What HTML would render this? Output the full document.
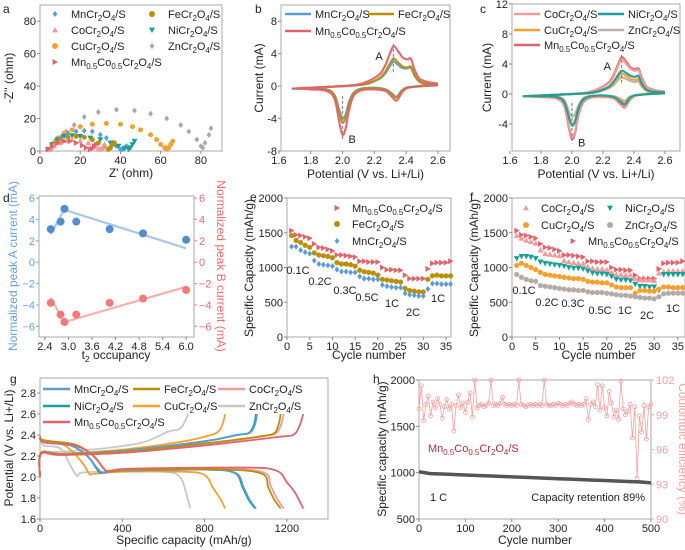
<!DOCTYPE html>
<html><head><meta charset="utf-8">
<style>
html,body{margin:0;padding:0;background:#fff;}
svg{display:block;font-family:"Liberation Sans",Arial,sans-serif;}
</style></head>
<body>
<svg id="fig" width="685" height="550" viewBox="0 0 685 550" xmlns="http://www.w3.org/2000/svg"></svg>
<script>
// ---------------- DATA ----------------
const nyqZnX=[6,8,10,13,17,22,29,38,47,55,63,70,74,78,80,81,82,84,85];
const nyqZnY=[2,5,8,12,16,21,24,25.5,25,23,20,16,12,7,3,2,5,10,14];
const nyqCuX=[5,7,9,12,16,20,26,33,40,46,50,55,58,60,62,63,64,65,66];
const nyqCuY=[1,5,8,11,13,15,16.5,17,16.5,15,13,10,7,4,2,1,2,4,6];
const nyqMnX=[4,6,8,11,14,18,22,26,30,33,36,38,40,41,42,43];
const nyqMnY=[1,4,7,9,11,12,12.5,12,10,8,5,3,1,1,2,3];
const nyqNiX=[4,6,9,12,16,20,25,30,35,39,42,44,45,46,47];
const nyqNiY=[1,4,7,9,9.5,9,8,7,5,3,1.5,1,2,4,6];
const nyqFeX=[5,7,10,14,18,22,26,29,32,34,35,36,37];
const nyqFeY=[1,4,7,8.5,9,8.5,7,5,3,1,2,4,5];
const nyqCoX=[5,7,10,13,16,20,24,27,29,30,31,32];
const nyqCoY=[1,3,5,6.5,7,6.5,5,3,1.5,1,2,4];
const nyqMCX=[4,6,9,12,15,18,21,23,25,26,27,28];
const nyqMCY=[1,3,5,6,6,5,3.5,2,1,1.5,3,4];
const cvVc=[2.6,2.5,2.44,2.4,2.37,2.34,2.31,2.27,2.2,2.12,2.07,2.04,2.02,2.0,1.98,1.95,1.9,1.8,1.7];
const cvVa=[1.7,1.8,1.9,2.0,2.1,2.16,2.2,2.24,2.27,2.29,2.32,2.35,2.38,2.41,2.43,2.45,2.48,2.52,2.6];
const cvMCc=[0.2,0.05,-0.1,-0.3,-0.9,-1.8,-1.3,-0.6,-0.4,-0.5,-1.2,-3.0,-5.2,-6.0,-4.5,-1.6,-0.6,-0.4,-0.3];
const cvMCa=[-0.3,-0.2,-0.1,0,0.2,0.6,1.0,1.6,2.6,3.6,4.9,4.3,3.5,3.3,3.4,2.2,1.0,0.6,0.3];
const cvMnc=[0.1,0,-0.1,-0.2,-0.6,-1.3,-0.9,-0.4,-0.2,-0.3,-0.8,-2.0,-3.5,-4.0,-3.0,-1.1,-0.4,-0.3,-0.3];
const cvMna=[-0.3,-0.2,-0.1,0,0.1,0.3,0.6,1.0,1.6,2.2,3.0,2.6,2.2,2.2,2.3,1.4,0.6,0.3,0.2];
const cvFec=[0.1,0,-0.1,-0.2,-0.7,-1.4,-1.0,-0.45,-0.25,-0.35,-0.9,-2.3,-3.9,-4.5,-3.4,-1.2,-0.45,-0.3,-0.3];
const cvFea=[-0.3,-0.2,-0.1,0,0.15,0.35,0.65,1.1,1.8,2.5,3.4,2.9,2.4,2.3,2.4,1.5,0.65,0.35,0.2];
const cvCoc=[0.2,0.05,-0.1,-0.3,-0.9,-1.7,-1.2,-0.6,-0.4,-0.5,-1.1,-2.8,-5.0,-5.7,-4.3,-1.5,-0.6,-0.4,-0.3];
const cvCoa=[-0.3,-0.2,-0.1,0,0.2,0.55,0.95,1.5,2.4,3.4,4.6,4.0,3.3,3.1,3.2,2.0,0.9,0.55,0.3];
const cvNic=[0.1,0,-0.1,-0.2,-0.6,-1.4,-1.0,-0.4,-0.2,-0.3,-0.8,-2.1,-3.7,-4.2,-3.1,-1.1,-0.4,-0.3,-0.3];
const cvNia=[-0.3,-0.2,-0.1,0,0.1,0.3,0.6,1.0,1.7,2.3,3.1,2.8,2.4,2.3,2.4,1.4,0.6,0.3,0.2];
const cvCuc=[0.1,0,-0.1,-0.2,-0.5,-1.2,-0.8,-0.4,-0.2,-0.3,-0.8,-2.0,-3.5,-4.0,-3.0,-1.0,-0.4,-0.3,-0.3];
const cvCua=[-0.3,-0.2,-0.1,0,0.1,0.3,0.55,0.9,1.4,2.0,2.7,2.4,2.0,1.9,2.0,1.2,0.5,0.3,0.2];
const cvZnc=[0.1,0,-0.1,-0.2,-0.4,-0.9,-0.6,-0.3,-0.2,-0.25,-0.6,-1.6,-2.7,-3.0,-2.3,-0.8,-0.35,-0.3,-0.3];
const cvZna=[-0.3,-0.2,-0.1,0,0.1,0.25,0.45,0.8,1.2,1.7,2.2,2.0,1.7,1.6,1.7,1.0,0.45,0.25,0.15];
const occX=[2.55,2.8,2.9,3.2,4.05,4.9,6.0];
const peakA=[3.1,3.8,5.0,3.8,3.1,2.7,2.1];
const peakB=[-3.8,-4.9,-5.6,-4.9,-3.8,-3.4,-2.6];
const fitAX=[2.55,2.9,2.9,6.0], fitAY=[2.6,5.0,4.9,1.3];
const fitBX=[2.55,2.9,2.9,6.0], fitBY=[-3.3,-5.7,-5.6,-2.3];
const capMC=[1530,1470,1460,1440,1420,1340,1290,1280,1260,1240,1180,1180,1170,1160,1150,1090,1090,1080,1080,1080,1000,970,970,960,960,890,840,840,840,840,980,1060,1070,1070,1070,1090];
const capFe=[1460,1390,1360,1320,1290,1210,1180,1170,1160,1140,1070,1050,1050,1040,1020,960,940,930,920,890,830,820,810,800,790,700,670,660,650,650,830,880,890,880,880,880];
const capMn=[1300,1300,1250,1220,1200,1100,1050,1040,1030,1020,970,940,940,930,930,870,840,840,830,830,750,730,720,710,710,630,610,600,590,590,690,770,770,760,760,760];
const capCo=[1460,1420,1390,1370,1350,1250,1200,1190,1180,1170,1100,1080,1070,1060,1060,1010,990,980,980,970,930,900,900,890,890,840,820,820,820,810,920,940,950,950,950,950];
const capNi=[1130,1160,1160,1150,1130,1080,1060,1050,1040,1030,1020,1000,990,990,980,950,920,910,910,900,870,830,820,820,810,760,730,730,720,720,670,900,900,900,900,900];
const capCu=[1030,1060,1030,1000,970,930,900,890,880,870,860,850,840,840,830,800,790,790,780,780,750,720,710,710,710,630,670,670,660,660,690,720,720,710,710,710];
const capZn=[900,860,830,810,800,740,730,720,710,700,690,680,680,670,670,650,640,640,640,630,620,610,600,600,590,580,570,560,560,550,580,620,630,630,630,630];
const disZnX=[0,20,100,150,180,200,300,600,680,710,730], disZnY=[2.36,2.30,2.27,2.10,2.01,2.04,2.05,2.05,2.0,1.85,1.70];
const disCuX=[0,20,120,200,240,260,400,700,800,840,880,900], disCuY=[2.38,2.33,2.30,2.15,2.03,2.03,2.05,2.05,2.02,1.90,1.78,1.70];
const disMnX=[0,20,150,230,280,310,400,800,950,990,1020,1050], disMnY=[2.38,2.33,2.30,2.20,2.08,2.04,2.06,2.07,2.04,1.90,1.78,1.70];
const disNiX=[0,20,150,230,275,300,400,800,945,985,1015,1045], disNiY=[2.37,2.33,2.30,2.20,2.08,2.04,2.06,2.07,2.04,1.90,1.78,1.70];
const disFeX=[0,20,170,260,310,340,450,900,1080,1110,1140,1170], disFeY=[2.39,2.35,2.31,2.20,2.08,2.05,2.07,2.07,2.03,1.90,1.78,1.70];
const disCoX=[0,20,170,260,310,340,450,900,1090,1120,1150,1185], disCoY=[2.38,2.34,2.31,2.20,2.08,2.05,2.07,2.08,2.04,1.92,1.80,1.70];
const disMCX=[0,20,170,260,310,340,450,1000,1150,1200,1240,1280], disMCY=[2.38,2.33,2.30,2.20,2.08,2.06,2.08,2.09,2.06,1.95,1.85,1.70];
const chZnX=[0,5,100,300,500,620,680,710,720], chZnY=[2.00,2.22,2.24,2.27,2.33,2.43,2.46,2.55,2.60];
const chCuX=[0,5,100,400,700,830,870,890,900], chCuY=[2.0,2.22,2.22,2.26,2.34,2.40,2.44,2.52,2.6];
const chMnX=[0,5,100,400,800,960,1020,1045,1055], chMnY=[2.0,2.22,2.22,2.25,2.34,2.40,2.42,2.50,2.60];
const chNiX=[0,5,100,400,800,955,1015,1040,1050], chNiY=[2.0,2.23,2.22,2.25,2.34,2.40,2.42,2.50,2.60];
const chFeX=[0,5,100,400,800,1080,1140,1160,1170], chFeY=[2.0,2.23,2.22,2.24,2.32,2.39,2.42,2.50,2.60];
const chCoX=[0,5,100,400,800,1090,1150,1172,1185], chCoY=[2.0,2.22,2.21,2.24,2.31,2.39,2.42,2.50,2.60];
const chMCX=[0,5,100,400,800,1150,1230,1260,1280], chMCY=[2.0,2.22,2.21,2.23,2.30,2.38,2.40,2.48,2.60];
const cycCapX=[0,25,50,75,100,125,150,175,200,225,250,275,300,325,350,375,400,425,450,475,500];
const cycCap=[1010,990,985,980,975,970,965,960,955,950,945,940,935,930,925,920,915,910,905,900,890];
const ceVals=[99.5,101.5,98.5,99.9,100.6,98.9,100.1,99.6,100.4,99.9,98.7,99.7,100.3,99.5,99.9,97.6,99.8,100.7,99.6,100.0,99.2,100.1,100.9,98.8,102,99.6,99.8,99.9,99.7,99.8,100.0,102,99.8,99.9,99.8,100.0,100.5,99.9,99.8,99.9,99.8,99.9,99.8,102,99.9,99.8,99.7,99.8,99.9,99.8,99.9,99.8,99.9,99.8,102,99.9,99.8,99.8,99.9,99.8,100.0,99.9,99.8,99.9,99.8,100.0,100.1,99.9,99.8,99.9,99.8,99.9,100.4,98.6,99.9,100.1,99.7,101.6,99.4,101.5,99.6,98.9,101.0,100.0,98.8,99.4,98.6,101.9,99.5,99.0,99.3,99.9,97.0,99.7,93.5,98.9,97.5,99.8,96.9,99.7,99.9];

// ---------------- HELPERS ----------------
const NS='http://www.w3.org/2000/svg';
const svg=document.getElementById('fig');
const TFS=11, AFS=12;
function mk(tag,attrs,parent){const e=document.createElementNS(NS,tag);for(const k in attrs)e.setAttribute(k,attrs[k]);(parent||svg).appendChild(e);return e;}
function group(name){const g=mk('g',{});


return g;}
function scaler(p){return{x:v=>p.L+(v-p.x0)/(p.x1-p.x0)*(p.R-p.L),y:v=>p.B-(v-p.y0)/(p.y1-p.y0)*(p.B-p.T)};}
function txt(parent,x,y,s,o){o=o||{};const fs=o.fs||TFS;const t=mk('text',{x:x,y:y,'font-size':fs,fill:o.fill||'#222','text-anchor':o.anchor||'start'},parent);
if(o.rot)t.setAttribute('transform','rotate('+o.rot+' '+x+' '+y+')');
const parts=s.split(/_([0-9.]+)/);
parts.forEach((p,i)=>{if(!p)return;const ts=mk('tspan',{},t);ts.textContent=p;if(i%2===1){ts.setAttribute('font-size',fs*0.72);ts.setAttribute('dy',3);}else if(i>0){ts.setAttribute('dy',-3);} });
return t;}
function frame(g,p,xt,yt,fmtx,fmty){
 const s=scaler(p);
 const r=mk('rect',{x:p.L,y:p.T,width:p.R-p.L,height:p.B-p.T,fill:'none',stroke:'#a8a8a8','stroke-width':1},g);
 
 
 const xa=group('x-axis');g.appendChild(xa);
 xt.forEach(v=>{const X=s.x(v);mk('line',{x1:X,x2:X,y1:p.B,y2:p.B+3,stroke:'#888'},xa);txt(xa,X,p.B+13,fmtx(v),{anchor:'middle'});});
 const ya=group('y-axis');g.appendChild(ya);
 yt.forEach(v=>{const Y=s.y(v);mk('line',{x1:p.L-3,x2:p.L,y1:Y,y2:Y,stroke:'#888'},ya);txt(ya,p.L-4,Y+4,fmty(v),{anchor:'end'});});
 return s;}
function smooth(pts){let d='M'+pts[0][0]+','+pts[0][1];for(let i=0;i<pts.length-1;i++){const p0=pts[i-1]||pts[i],p1=pts[i],p2=pts[i+1],p3=pts[i+2]||p2;const c1=[p1[0]+(p2[0]-p0[0])/6,p1[1]+(p2[1]-p0[1])/6],c2=[p2[0]-(p3[0]-p1[0])/6,p2[1]-(p3[1]-p1[1])/6];d+='C'+c1[0]+','+c1[1]+' '+c2[0]+','+c2[1]+' '+p2[0]+','+p2[1];}return d;}
function marker(g,shape,x,y,c,sz){sz=sz||3.2;let e;
 if(shape==='circle')e=mk('circle',{cx:x,cy:y,r:sz,fill:c},g);
 else if(shape==='diamond')e=mk('polygon',{points:[x,y-sz,x+sz*0.8,y,x,y+sz,x-sz*0.8,y].join(' '),fill:c},g);
 else if(shape==='up')e=mk('polygon',{points:[x,y-sz,x+sz,y+sz*0.8,x-sz,y+sz*0.8].join(' '),fill:c},g);
 else if(shape==='down')e=mk('polygon',{points:[x,y+sz,x+sz,y-sz*0.8,x-sz,y-sz*0.8].join(' '),fill:c},g);
 else if(shape==='right')e=mk('polygon',{points:[x+sz,y,x-sz*0.8,y-sz,x-sz*0.8,y+sz].join(' '),fill:c},g);
 return e;}
const C={Mn:'#5a9bd8',Fe:'#b8900a',Co:'#f49a9a',Ni:'#17a098',Cu:'#f7a030',Zn:'#a9a9a9',ZnC:'#bdb0aa',MC:'#e0646c'};
const num=v=>String(v);
const fix1=v=>v.toFixed(1);

// ---------------- PANEL A ----------------
{const g=group('panel-a-nyquist');const p={L:40,R:222,T:5,B:151,x0:0,x1:90.5,y0:0,y1:90};
 const s=frame(g,p,[0,20,40,60,80],[0,20,40,60,80],num,num);
 txt(g,3,13,'a',{fs:12});
 txt(g,13,78,"-Z'' (ohm)",{anchor:'middle',rot:-90,fs:AFS});
 txt(g,131,177,"Z' (ohm)",{anchor:'middle',fs:AFS});
 const ser=[[nyqZnX,nyqZnY,C.Zn,'diamond','zn'],[nyqCuX,nyqCuY,C.Cu,'circle','cu'],[nyqMnX,nyqMnY,C.Mn,'diamond','mn'],[nyqNiX,nyqNiY,C.Ni,'down','ni'],[nyqFeX,nyqFeY,C.Fe,'circle','fe'],[nyqCoX,nyqCoY,C.Co,'up','co'],[nyqMCX,nyqMCY,C.MC,'right','mnco']];
 ser.forEach(a=>{const sg=group('series-'+a[4]);g.appendChild(sg);a[0].forEach((v,i)=>{const m=marker(sg,a[3],s.x(v),s.y(a[1][i]),a[2],a[3]==='circle'?2.5:3);
  
  });});
 const lg=group('legend-a');g.appendChild(lg);
 [[55,14,'diamond',C.Mn,'MnCr_2O_4/S'],[152,14,'circle',C.Fe,'FeCr_2O_4/S'],[55,30,'up',C.Co,'CoCr_2O_4/S'],[152,30,'down',C.Ni,'NiCr_2O_4/S'],[55,46,'circle',C.Cu,'CuCr_2O_4/S'],[152,46,'diamond',C.Zn,'ZnCr_2O_4/S'],[55,62,'right',C.MC,'Mn_0.5Co_0.5Cr_2O_4/S']].forEach(e=>{marker(lg,e[2],e[0],e[1],e[3],3);txt(lg,e[0]+16,e[1]+4,e[4],{fs:11});});
}
// ---------------- PANEL B & C ----------------
function cvPanel(name,p,ticksY,series,legend,letter,lx,titleX){
 const g=group(name);const s=frame(g,p,[1.6,1.8,2.0,2.2,2.4,2.6],ticksY,fix1,num);
 txt(g,lx,13,letter,{fs:12});
 txt(g,titleX,(p.T+p.B)/2,'Current (mA)',{anchor:'middle',rot:-90,fs:AFS});
 txt(g,(p.L+p.R)/2,178,'Potential (V vs. Li+/Li)',{anchor:'middle',fs:AFS});
 series.forEach(a=>{const pts=cvVc.map((v,i)=>[s.x(v),s.y(a[0][i])]).concat(cvVa.map((v,i)=>[s.x(v),s.y(a[1][i])]));
  const path=mk('path',{d:smooth(pts),fill:'none',stroke:a[2],'stroke-width':2.2,'stroke-linejoin':'round','stroke-opacity':0.95},g);
  
  });
 mk('line',{x1:s.x(2.32),x2:s.x(2.32),y1:s.y(5.2),y2:s.y(1.5),stroke:'#888','stroke-dasharray':'3,2','stroke-width':1.2},g);
 mk('line',{x1:s.x(2.0),x2:s.x(2.0),y1:s.y(-1.2),y2:s.y(-6.6),stroke:'#888','stroke-dasharray':'3,2','stroke-width':1.2},g);
 txt(g,s.x(2.32)-18,s.y(3.2),'A',{fs:11});
 txt(g,s.x(2.0)+6,s.y(-7.0),'B',{fs:11});
 const lg=group('legend-'+name);g.appendChild(lg);
 legend.forEach(e=>{mk('line',{x1:e[0],x2:e[0]+26,y1:e[1],y2:e[1],stroke:e[2],'stroke-width':2.5},lg);txt(lg,e[0]+30,e[1]+4,e[3],{fs:11});});
}
cvPanel('panel-b-cv',{L:281,R:450,T:5,B:151,x0:1.613,x1:2.676,y0:-8,y1:10},[-8,-4,0,4,8],
 [[cvMnc,cvMna,C.Mn,'mn'],[cvFec,cvFea,C.Fe,'fe'],[cvMCc,cvMCa,C.MC,'mnco']],
 [[285,14,C.Mn,'MnCr_2O_4/S'],[368,14,C.Fe,'FeCr_2O_4/S'],[285,31,C.MC,'Mn_0.5Co_0.5Cr_2O_4/S']],'b',255,263);
cvPanel('panel-c-cv',{L:512,R:680,T:4,B:151,x0:1.613,x1:2.697,y0:-7.6,y1:12},[-4,0,4,8,12],
 [[cvMCc,cvMCa,C.MC,'mnco'],[cvCoc,cvCoa,C.Co,'co'],[cvZnc,cvZna,C.ZnC,'zn'],[cvCuc,cvCua,C.Cu,'cu'],[cvNic,cvNia,C.Ni,'ni']],
 [[514,14,C.Co,'CoCr_2O_4/S'],[598,14,C.Ni,'NiCr_2O_4/S'],[514,30,C.Cu,'CuCr_2O_4/S'],[598,30,C.ZnC,'ZnCr_2O_4/S'],[514,45,C.MC,'Mn_0.5Co_0.5Cr_2O_4/S']],'c',480,491);
// ---------------- PANEL D ----------------
{const g=group('panel-d-peak-current');const p={L:39,R:194,T:196,B:337,x0:2.25,x1:6.2,y0:-7,y1:6.2};
 const s=scaler(p);
 mk('rect',{x:p.L,y:p.T,width:p.R-p.L,height:p.B-p.T,fill:'none',stroke:'#a8a8a8'},g);
 [2.4,3.0,3.6,4.2,4.8,5.4,6.0].forEach(v=>{const X=s.x(v);mk('line',{x1:X,x2:X,y1:p.B,y2:p.B+3,stroke:'#888'},g);txt(g,X,p.B+13,v.toFixed(1),{anchor:'middle'});});
 [-6,-4,-2,0,2,4,6].forEach(v=>{const Y=s.y(v);mk('line',{x1:p.L-3,x2:p.L,y1:Y,y2:Y,stroke:'#7aa8d8'},g);txt(g,p.L-4,Y+4,String(v).replace('-','−'),{anchor:'end',fill:'#6a9fd8'});
  mk('line',{x1:p.R,x2:p.R+3,y1:Y,y2:Y,stroke:'#f08080'},g);txt(g,p.R+5,Y+4,String(v).replace('-','−'),{fill:'#f06a6a'});});
 txt(g,3,202,'d',{fs:12});
 txt(g,17,266,'Normalized peak A current (mA)',{anchor:'middle',rot:-90,fs:AFS,fill:'#6a9fd8'});
 txt(g,217,266,'Normalized peak B current (mA)',{anchor:'middle',rot:90,fs:AFS,fill:'#f06a6a'});
 txt(g,116,359,'t_2 occupancy',{anchor:'middle',fs:AFS});
 [[fitAX,fitAY,'#a8c6e8'],[fitBX,fitBY,'#f8b0b0']].forEach(f=>{for(let i=0;i<f[0].length;i+=2){mk('line',{x1:s.x(f[0][i]),y1:s.y(f[1][i]),x2:s.x(f[0][i+1]),y2:s.y(f[1][i+1]),stroke:f[2],'stroke-width':2.2},g);}});
 occX.forEach((v,i)=>{const a=mk('circle',{cx:s.x(v),cy:s.y(peakA[i]),r:4,fill:'#4f8fd0'},g);
  
  
  const b=mk('circle',{cx:s.x(v),cy:s.y(peakB[i]),r:4,fill:'#f27a7a'},g);
  
  });
}
// ---------------- PANEL E & F ----------------
function ratePanel(name,p,series,legend,rates,letter,lx,tx){
 const g=group(name);const s=frame(g,p,[0,5,10,15,20,25,30,35],[0,500,1000,1500,2000],num,num);
 txt(g,lx,201,letter,{fs:12});
 txt(g,tx,268,'Specific Capacity (mAh/g)',{anchor:'middle',rot:-90,fs:AFS});
 txt(g,(p.L+p.R)/2,359,'Cycle number',{anchor:'middle',fs:AFS});
 series.forEach(a=>{const sg=group('series-'+a[3]);g.appendChild(sg);a[0].forEach((v,i)=>{const m=marker(sg,a[2],s.x(i+1),s.y(v),a[1],a[2]==='circle'?2.6:3);
  
  });});
 const lg=group('legend-'+name);g.appendChild(lg);
 legend.forEach(e=>{marker(lg,e[2],e[0],e[1],e[3],3);txt(lg,e[0]+15,e[1]+4,e[4],{fs:11});});
 rates.forEach(r=>txt(g,r[0],r[1],r[2],{anchor:'middle',fs:11}));
}
ratePanel('panel-e-rate',{L:287,R:451,T:198,B:337,x0:0,x1:36.1,y0:0,y1:2000},
 [[capMC,C.MC,'right','mnco'],[capFe,C.Fe,'circle','fe'],[capMn,C.Mn,'diamond','mn']],
 [[337,208,'right',C.MC,'Mn_0.5Co_0.5Cr_2O_4/S'],[337,224,'circle',C.Fe,'FeCr_2O_4/S'],[337,241,'diamond',C.Mn,'MnCr_2O_4/S']],
 [[298,274,'0.1C'],[320,285,'0.2C'],[345,294,'0.3C'],[367,301,'0.5C'],[392,307,'1C'],[413,316,'2C'],[438,302,'1C']],'e',250,253);
ratePanel('panel-f-rate',{L:512,R:685,T:198,B:337,x0:0,x1:36.5,y0:0,y1:2000},
 [[capMC,C.MC,'right','mnco'],[capCo,C.Co,'up','co'],[capNi,C.Ni,'down','ni'],[capCu,C.Cu,'circle','cu'],[capZn,'#b5aaa5','circle','zn']],
 [[526,208,'up',C.Co,'CoCr_2O_4/S'],[610,208,'down',C.Ni,'NiCr_2O_4/S'],[526,225,'circle',C.Cu,'CuCr_2O_4/S'],[610,225,'circle','#b5aaa5','ZnCr_2O_4/S'],[573,241,'right',C.MC,'Mn_0.5Co_0.5Cr_2O_4/S']],
 [[524,294,'0.1C'],[547,306,'0.2C'],[573,307,'0.3C'],[600,314,'0.5C'],[625,314,'1C'],[647,319,'2C'],[673,312,'1C']],'f',470,478);
// ---------------- PANEL G ----------------
{const g=group('panel-g-charge-discharge');const p={L:40,R:328,T:378,B:519,x0:0,x1:1400,y0:1.6,y1:2.943};
 const s=frame(g,p,[0,400,800,1200],[1.6,1.8,2.0,2.2,2.4,2.6,2.8],num,fix1);
 txt(g,10,383,'g',{fs:12});
 txt(g,13,448,'Potential (V vs. Li+/Li)',{anchor:'middle',rot:-90,fs:AFS});
 txt(g,184,544,'Specific capacity (mAh/g)',{anchor:'middle',fs:AFS});
 [[disZnX,disZnY,chZnX,chZnY,'#c8c8c8','zn'],[disCuX,disCuY,chCuX,chCuY,C.Cu,'cu'],[disNiX,disNiY,chNiX,chNiY,C.Ni,'ni'],[disMnX,disMnY,chMnX,chMnY,C.Mn,'mn'],[disCoX,disCoY,chCoX,chCoY,C.Co,'co'],[disFeX,disFeY,chFeX,chFeY,C.Fe,'fe'],[disMCX,disMCY,chMCX,chMCY,C.MC,'mnco']].forEach(a=>{
  const d1=mk('path',{d:smooth(a[0].map((v,i)=>[s.x(v),s.y(a[1][i])])),fill:'none',stroke:a[4],'stroke-width':1.8},g);
  
  
  const d2=mk('path',{d:smooth(a[2].map((v,i)=>[s.x(v),s.y(a[3][i])])),fill:'none',stroke:a[4],'stroke-width':1.8},g);
  
  });
 const lg=group('legend-g');g.appendChild(lg);
 [[43,389,C.Mn,'MnCr_2O_4/S'],[133,389,C.Fe,'FeCr_2O_4/S'],[218,389,C.Co,'CoCr_2O_4/S'],[43,406,C.Ni,'NiCr_2O_4/S'],[133,406,C.Cu,'CuCr_2O_4/S'],[218,406,'#c8c8c8','ZnCr_2O_4/S'],[43,422,C.MC,'Mn_0.5Co_0.5Cr_2O_4/S']].forEach(e=>{mk('line',{x1:e[0],x2:e[0]+27,y1:e[1],y2:e[1],stroke:e[2],'stroke-width':2.5},lg);txt(lg,e[0]+31,e[1]+4,e[3],{fs:11});});
}
// ---------------- PANEL H ----------------
{const g=group('panel-h-cycling');const p={L:419,R:651,T:380,B:519,x0:0,x1:500,y0:500,y1:2000};
 const s=frame(g,p,[0,100,200,300,400,500],[500,1000,1500,2000],num,num);
 const ry=v=>p.B-(v-90)/12*(p.B-p.T);
 [90,93,96,99,102].forEach(v=>{mk('line',{x1:p.R,x2:p.R+3,y1:ry(v),y2:ry(v),stroke:'#f4a0a0'},g);txt(g,p.R+5,ry(v)+4,String(v),{fill:'#f4a0a0'});});
 txt(g,373,383,'h',{fs:12});
 txt(g,386,449,'Specific capacity (mAh/g)',{anchor:'middle',rot:-90,fs:AFS});
 txt(g,679,449,'Coulombic efficiency (%)',{anchor:'middle',rot:90,fs:AFS,fill:'#f4a0a0'});
 txt(g,535,544,'Cycle number',{anchor:'middle',fs:AFS});
 const cePts=ceVals.map((v,i)=>[s.x(i*5),ry(Math.min(v,102))]);
 const ce=mk('polyline',{points:cePts.map(q=>q.join(',')).join(' '),fill:'none',stroke:'#f4a0a0','stroke-width':0.8},g);
 
 
 cePts.forEach(q=>mk('circle',{cx:q[0],cy:q[1],r:2,fill:'none',stroke:'#f4a0a0','stroke-width':0.8},g));
 const cp=cycCapX.map((v,i)=>[s.x(v),s.y(cycCap[i])]);
 const cap=mk('polyline',{points:cp.map(q=>q.join(',')).join(' '),fill:'none',stroke:'#555','stroke-width':3.5},g);
 
 
 txt(g,428,452,'Mn_0.5Co_0.5Cr_2O_4/S',{fs:11,fill:'#a83232'});
 txt(g,430,501,'1 C',{fs:11});
 txt(g,645,501,'Capacity retention 89%',{fs:11,anchor:'end'});
}
</script>
</body></html>
